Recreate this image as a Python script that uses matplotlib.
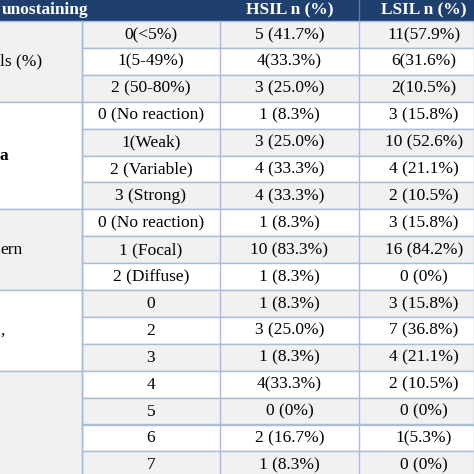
import matplotlib
matplotlib.use("Agg")
import matplotlib.pyplot as plt
from matplotlib.patches import Rectangle

headers = ["unostaining", "", "HSIL n (%)", "LSIL n (%)"]
scores = ["0(<5%)", "1(5-49%)", "2 (50-80%)", "0 (No reaction)", "1(Weak)", "2 (Variable)",
          "3 (Strong)", "0 (No reaction)", "1 (Focal)", "2 (Diffuse)", "0", "2", "3",
          "4", "5", "6", "7"]
hsil = ["5 (41.7%)", "4(33.3%)", "3 (25.0%)", "1 (8.3%)", "3 (25.0%)", "4 (33.3%)",
        "4 (33.3%)", "1 (8.3%)", "10 (83.3%)", "1 (8.3%)", "1 (8.3%)", "3 (25.0%)",
        "1 (8.3%)", "4(33.3%)", "0 (0%)", "2 (16.7%)", "1 (8.3%)"]
lsil = ["11(57.9%)", "6(31.6%)", "2(10.5%)", "3 (15.8%)", "10 (52.6%)", "4 (21.1%)",
        "2 (10.5%)", "3 (15.8%)", "16 (84.2%)", "0 (0%)", "3 (15.8%)", "7 (36.8%)",
        "4 (21.1%)", "2 (10.5%)", "0 (0%)", "1(5.3%)", "0 (0%)"]
groups = [("ls (%)", 3, False), ("a", 4, True), ("ern", 3, False), (",", 3, False), ("", 4, False)]

plt.rcParams['font.family'] = ['Liberation Serif', 'DejaVu Serif']
fig = plt.figure(figsize=(4.74, 4.74), dpi=100)
ax = fig.add_axes([0, 0, 1, 1])
ax.set_xlim(0, 474); ax.set_ylim(474, 0); ax.axis('off')

navy = "#1f3f6e"; grid = "#a9bcd8"; grey = "#f1f1f1"
top = 21; rh = 26.9
fs = 12.5
ax.add_patch(Rectangle((0, 0), 474, top, color=navy, lw=0))
ax.plot([359, 359], [0, top], color="#5f7aa3", lw=1)
ax.text(2, 10, headers[0], color="white", fontsize=fs, fontweight="bold", va="center", ha="left")
ax.text(289.5, 10, headers[2], color="white", fontsize=fs, fontweight="bold", va="center", ha="center")
ax.text(424, 10, headers[3], color="white", fontsize=fs, fontweight="bold", va="center", ha="center")

for i in range(len(scores)):
    y = top + i * rh
    fc = grey if i % 2 == 0 else "white"
    ax.add_patch(Rectangle((82, y), 474 - 82, rh, facecolor=fc, edgecolor=grid, lw=1))
    cy = y + rh / 2 + 0.5
    ax.text(151, cy, scores[i], fontsize=fs, va="center", ha="center")
    ax.text(289.5, cy, hsil[i], fontsize=fs, va="center", ha="center")
    ax.text(424, cy, lsil[i], fontsize=fs, va="center", ha="center")

ybot = top + len(scores) * rh
for xv in (82, 220, 359):
    ax.plot([xv, xv], [top, ybot], color=grid, lw=1)

r = 0
for k, (lab, n, bold) in enumerate(groups):
    y = top + r * rh
    fc = grey if k % 2 == 0 else "white"
    ax.add_patch(Rectangle((-2, y), 84, n * rh, facecolor=fc, edgecolor=grid, lw=1))
    ax.text(0, y + n * rh / 2, lab, fontsize=fs, va="center", ha="left",
            fontweight="bold" if bold else "normal")
    r += n

fig.savefig("out.png", dpi=100)
